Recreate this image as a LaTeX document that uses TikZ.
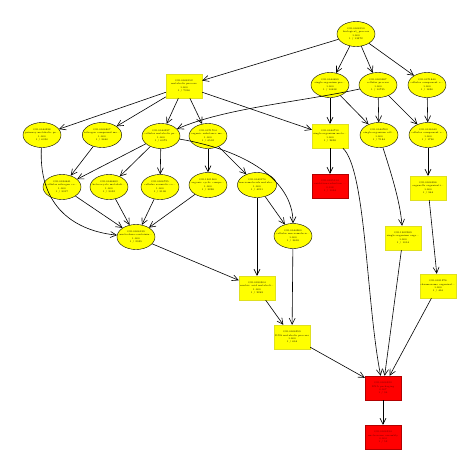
\documentclass[tikz,border=0pt]{standalone}
\usepackage{tikz}
\usetikzlibrary{arrows.meta,shapes.geometric}
\definecolor{goyel}{RGB}{255,255,0}
\definecolor{gored}{RGB}{255,0,0}
\tikzset{
  % GO terms: ellipses for plain terms, boxes for the scored ones
  goterm/.style={ellipse,fill=goyel,draw=black,thin,minimum width=38pt,
    minimum height=25pt,inner xsep=-4pt,inner ysep=-1pt,align=center,
    font=\fontsize{2.4}{3.1}\selectfont},
  gobox/.style={rectangle,fill=goyel,draw=goyel!75!gray,thin,minimum width=36pt,
    minimum height=24pt,inner sep=0pt,align=center,
    font=\fontsize{2.4}{3.1}\selectfont},
  gosig/.style={gobox,fill=gored,draw=gored!70!black,text=red!40!black},
  arr/.style={-{Straight Barb[length=6pt,width=6pt]},line width=0.6pt}
}
\begin{document}
\begin{tikzpicture}[x=1pt,y=-1pt]
  \useasboundingbox (0,0) rectangle (474,474);
  % row 0-1
  \node[goterm] (bp) at (356,34) {GO:0008150\\biological\_process\\1.000\\1 / 13372};
  \node[gobox] (meta) at (184,86) {GO:0008152\\metabolic process\\1.000\\1 / 7316};
  \node[goterm] (sopro) at (330,85) {GO:0044699\\single-organism pro...\\1.000\\1 / 10458};
  \node[goterm] (cellp) at (378,85) {GO:0009987\\cellular process\\1.000\\1 / 10735};
  \node[goterm] (ccorg) at (427,85) {GO:0071840\\cellular component o...\\1.000\\1 / 1830};
  % row 2
  \node[goterm] (prim) at (42,135) {GO:0044238\\primary metabolic pr...\\1.000\\1 / 6350};
  \node[goterm] (nitro) at (102,135) {GO:0006807\\nitrogen compound me...\\1.000\\1 / 3640};
  \node[goterm] (cmeta) at (161,136) {GO:0044237\\cellular metabolic pr...\\1.000\\1 / 6373};
  \node[goterm] (orgsub) at (208,136) {GO:0071704\\organic substance me...\\1.000\\1 / 6502};
  \node[gobox] (someta) at (330,136) {GO:0044710\\single-organism meta...\\1.000\\1 / 2858};
  \node[goterm] (socell) at (379,135) {GO:0044763\\single-organism cell...\\1.000\\1 / 7184};
  \node[goterm] (ccorg2) at (428,135) {GO:0016043\\cellular component o...\\1.000\\1 / 1790};
  % row 3
  \node[gosig] (redox) at (330,186) {GO:0055114\\oxidation-reduction ...\\0.018\\1 / 1094};
  \node[goterm] (cnitro) at (62,187) {GO:0034641\\cellular nitrogen co...\\1.000\\1 / 3317};
  \node[goterm] (hetero) at (109,187) {GO:0046483\\heterocycle metaboli...\\1.000\\1 / 3052};
  \node[goterm] (arom) at (160,187) {GO:0006725\\cellular aromatic co...\\1.000\\1 / 3108};
  \node[goterm] (cyclic) at (208,185) {GO:1901360\\organic cyclic compo...\\1.000\\1 / 3238};
  \node[goterm] (macro) at (257,185) {GO:0043170\\macromolecule metabo...\\1.000\\1 / 4211};
  \node[gobox] (organ) at (428,188) {GO:0006996\\organelle organizati...\\1.000\\1 / 964};
  % row 4
  \node[goterm] (nucbase) at (136,237) {GO:0006139\\nucleobase-containin...\\1.000\\1 / 2935};
  \node[goterm] (cmacro) at (293,236) {GO:0044260\\cellular macromolecu...\\1.000\\1 / 3618};
  \node[gobox] (soorg) at (403,238) {GO:1902589\\single-organism orga...\\1.000\\1 / 1014};
  \node[gobox] (nucacid) at (257,288) {GO:0090304\\nucleic acid metaboli...\\1.000\\1 / 2263};
  \node[gobox] (chrom) at (438,286) {GO:0051276\\chromosome organizat...\\1.000\\1 / 416};
  \node[gobox] (dna) at (292,337) {GO:0006259\\DNA metabolic process\\1.000\\1 / 604};
  \node[gosig] (pack) at (383,388) {GO:0006323\\DNA packaging\\0.007\\1 / 94};
  \node[gosig] (nucl) at (383,437) {GO:0006334\\nucleosome assembly\\0.004\\1 / 52};
  % edges
  \foreach \a/\b in {bp/meta,bp/sopro,bp/cellp,bp/ccorg,
      meta/prim,meta/nitro,meta/cmeta,meta/orgsub,meta/someta,
      sopro/someta,sopro/socell,cellp/socell,cellp/ccorg2,ccorg/ccorg2,
      nitro/cnitro,cmeta/cnitro,cmeta/hetero,cmeta/arom,
      orgsub/cyclic,orgsub/macro,someta/redox,ccorg2/organ,
      cnitro/nucbase,hetero/nucbase,arom/nucbase,cyclic/nucbase,
      macro/cmacro,macro/nucacid,organ/chrom,nucbase/nucacid,
      cmacro/dna,nucacid/dna,soorg/pack,chrom/pack,dna/pack,pack/nucl}
    \draw[arr] (\a) -- (\b);
  \draw[arr] (cellp) .. controls (300,102) and (225,108) .. (cmeta);
  \draw[arr] (prim) .. controls (38,215) and (85,232) .. (nucbase);
  \draw[arr] (cmeta) .. controls (245,150) and (293,180) .. (cmacro);
  \draw[arr] (someta) .. controls (366,170) and (366,300) .. (pack);
  \draw[arr] (socell) .. controls (390,170) and (400,200) .. (soorg);
\end{tikzpicture}
\end{document}
